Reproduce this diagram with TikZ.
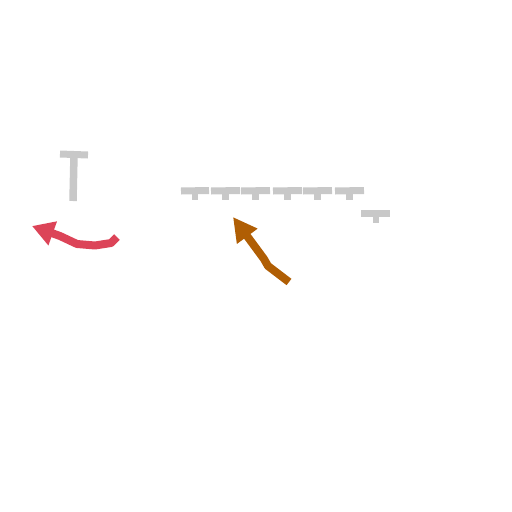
\documentclass[tikz,border=0pt]{standalone}
\usepackage{tikz}
\usetikzlibrary{arrows.meta}
\definecolor{markgray}{RGB}{200,200,200}
\definecolor{markred}{RGB}{220,68,88}
\definecolor{markorange}{RGB}{176,94,4}
\tikzset{
  tbar/.style={draw=markgray,line width=7pt},
  tstem/.style={draw=markgray,line width=6.5pt},
  redstroke/.style={draw=markred,line width=8pt,line join=round,-{Triangle[length=22pt,width=24pt]}},
  orangestroke/.style={draw=markorange,line width=8pt,line join=round,-{Triangle[length=24pt,width=24pt]}},
}
\begin{document}
\begin{tikzpicture}[x=1pt,y=-1pt]
  \useasboundingbox (0,0) rectangle (512,512);
  % left T
  \draw[tbar] (60,154) -- (88,155);
  \draw[draw=markgray,line width=7.5pt] (74,155) -- (73,201);
  % row of small T marks
  \foreach \xa/\xb in {181/209,211/240,241/270,273/302,303/332,335/364}{
    \draw[tbar] (\xa,191) -- (\xb,190.5);
    \draw[tstem] ({(\xa+\xb)/2},191) -- ({(\xa+\xb)/2},200);
  }
  \draw[tbar] (361,213.5) -- (390,213.5);
  \draw[tstem] (376,214) -- (376,223);
  % red curved arrow
  \draw[redstroke] (117,237) -- (111,243) -- (95,245.5) -- (77,244) -- (60,236) -- (32,226);
  % orange arrow
  \draw[orangestroke] (289,282) -- (268,266) -- (264,259) -- (250,240) -- (233,217);
\end{tikzpicture}
\end{document}
